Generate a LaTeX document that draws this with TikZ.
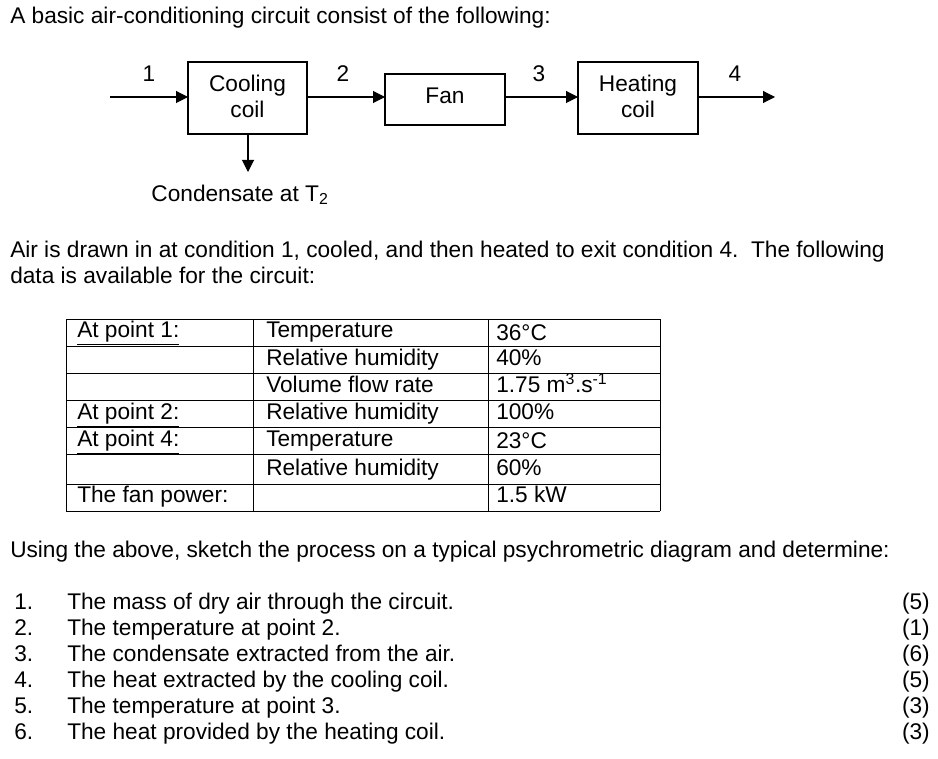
\documentclass[tikz,border=0pt]{standalone}
\usepackage{fontspec}
\setmainfont{Liberation Sans}
\usetikzlibrary{arrows.meta}
\begin{document}
\begin{tikzpicture}[x=0.75pt,y=-0.75pt,font=\fontsize{17}{19.5}\selectfont,
  flow/.style={line width=0.8pt,-{Triangle[length=9pt,width=9pt]}},
  txt/.style={anchor=west,inner sep=0pt,text height=12pt,text depth=3.5pt},
  tl/.style={line width=0.7pt}]
\useasboundingbox (0,0) rectangle (938,759);
\node[txt] (t1) at (10,18) {A basic air-conditioning circuit consist of the following:};
\draw[line width=0.8pt] (188,62) rectangle (307,134);
\node[align=center,inner sep=0pt] (ccl) at (247.5,96) {Cooling\\coil};
\draw[line width=0.8pt] (385,74) rectangle (505,125);
\node[inner sep=0pt] (fan) at (445,96) {Fan};
\draw[line width=0.8pt] (578,62) rectangle (698,134);
\node[align=center,inner sep=0pt] (hc) at (638,96) {Heating\\coil};
\coordinate (in) at (110,97);
\coordinate (c1) at (188,97); \coordinate (c2) at (307,97);
\coordinate (f1) at (385,97); \coordinate (f2) at (505,97);
\coordinate (h1) at (578,97); \coordinate (h2) at (698,97);
\coordinate (out) at (775,97);
\coordinate (d1) at (248,134); \coordinate (d2) at (248,172);
\draw[flow] (in) -- (c1);
\draw[flow] (c2) -- (f1);
\draw[flow] (f2) -- (h1);
\draw[flow] (h2) -- (out);
\draw[flow] (d1) -- (d2);
\node (n1) at (149,74) {1};
\node (n2) at (343,74) {2};
\node (n3) at (539,74) {3};
\node (n4) at (735,74) {4};
\node (cond) at (240,195) {Condensate at T\textsubscript{2}};
\node[txt] (p1) at (10,252) {Air is drawn in at condition 1, cooled, and then heated to exit condition 4.\ \ The following};
\node[txt] (p2) at (10,278) {data is available for the circuit:};
% table
\foreach \y in {319,346,373,400,427,454,484,511} \draw[tl] (66,\y) -- (660,\y);
\foreach \x in {66,253,488,660} \draw[tl] (\x,319) -- (\x,511);
\node[txt] (a1) at (77,332) {\underline{At point 1:}};
\node[txt] (a2) at (77,414) {\underline{At point 2:}};
\node[txt] (a4) at (77,441) {\underline{At point 4:}};
\node[txt] (af) at (77,497) {The fan power:};
\node[txt] (b1) at (266,332) {Temperature};
\node[txt] (b2) at (266,360) {Relative humidity};
\node[txt] (b3) at (266,387) {Volume flow rate};
\node[txt] (b4) at (266,414) {Relative humidity};
\node[txt] (b5) at (266,441) {Temperature};
\node[txt] (b6) at (266,470) {Relative humidity};
\node[txt] (v1) at (496,335) {36\textdegree C};
\node[txt] (v2) at (496,360) {40\%};
\node[txt] (v3) at (496,387) {1.75 m\textsuperscript{3}.s\textsuperscript{-1}};
\node[txt] (v4) at (496,414) {100\%};
\node[txt] (v5) at (496,443) {23\textdegree C};
\node[txt] (v6) at (496,470) {60\%};
\node[txt] (v7) at (496,497) {1.5 kW};
\node[txt] (u) at (10,552) {Using the above, sketch the process on a typical psychrometric diagram and determine:};
\foreach \i/\t/\m [count=\k from 0] in {1/The mass of dry air through the circuit./5,2/The temperature at point 2./1,3/The condensate extracted from the air./6,4/The heat extracted by the cooling coil./5,5/The temperature at point 3./3,6/The heat provided by the heating coil./3}{
  \node[txt] (q\i) at (14,604+26*\k) {\i.};
  \node[txt] (qt\i) at (67,604+26*\k) {\t};
  \node[txt,anchor=east] (qm\i) at (930,604+26*\k) {(\m)};
}
\end{tikzpicture}
\end{document}
